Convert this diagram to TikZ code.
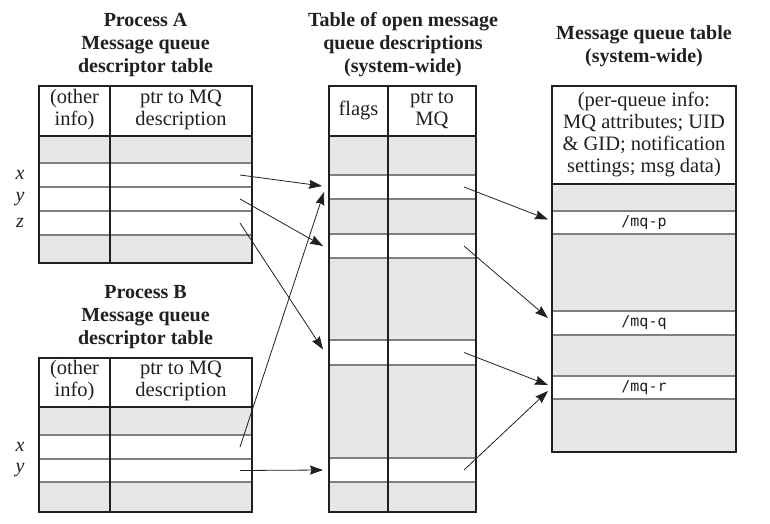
\documentclass[tikz,border=0pt]{standalone}
\usepackage{fontspec}
\setmainfont{Liberation Serif}
\newfontfamily\mqfont{DejaVu Sans Mono}
\usetikzlibrary{arrows.meta}
\definecolor{cellgray}{HTML}{E6E7E9}
\definecolor{rulegray}{HTML}{808080}
\definecolor{ink}{HTML}{231F20}

\tikzstyle{slot}=[rectangle, draw=rulegray, line width=1.1pt, fill=white, inner sep=0pt, outer sep=0pt, minimum height=24pt]
\tikzstyle{frame}=[draw=ink, line width=1.8pt]
\tikzstyle{title}=[align=center, text=ink, font=\fontsize{20}{23}\selectfont\bfseries]
\tikzstyle{head}=[align=center, text=ink, font=\fontsize{20.5}{22}\selectfont]
\tikzstyle{fdlabel}=[text=ink, font=\fontsize{20}{22}\selectfont\itshape]
\tikzstyle{qname}=[text=ink, font=\fontsize{15}{17}\mqfont]
\tikzstyle{ptr}=[-{Stealth[length=13pt,width=9pt,inset=1.5pt]}, line width=0.8pt, draw=ink]

\begin{document}
\begin{tikzpicture}[x=1pt,y=-1pt]
\useasboundingbox (0,0) rectangle (770,524);

% titles
\node[title] (tA) at (145.5,45) {Process A\\Message queue\\descriptor table};
\node[title] (tB) at (145.5,317) {Process B\\Message queue\\descriptor table};
\node[title] (tM) at (403,45) {Table of open message\\queue descriptions\\(system-wide)};
\node[title] (tR) at (644,46) {Message queue table\\(system-wide)};

% process A descriptor table
\fill[cellgray] (39,136) rectangle (252,263);
\node[slot, minimum width=213pt] (Ax) at (145.5,175) {};
\node[slot, minimum width=213pt] (Ay) at (145.5,199) {};
\node[slot, minimum width=213pt] (Az) at (145.5,223) {};
\draw[frame] (39,86) rectangle (252,263);
\draw[frame] (110,86) -- (110,263);
\draw[frame] (39,136) -- (252,136);
\node[head] (hA1) at (74.5,110) {(other\\info)};
\node[head] (hA2) at (181,110) {ptr to MQ\\description};
\node[fdlabel] (lAx) at (20,175) {x};
\node[fdlabel] (lAy) at (20,199) {y};
\node[fdlabel] (lAz) at (20,223) {z};

% process B descriptor table
\fill[cellgray] (39,407) rectangle (252,512);
\node[slot, minimum width=213pt] (Bx) at (145.5,447) {};
\node[slot, minimum width=213pt, minimum height=23pt] (By) at (145.5,470.5) {};
\draw[frame] (39,358) rectangle (252,512);
\draw[frame] (110,358) -- (110,512);
\draw[frame] (39,407) -- (252,407);
\node[head] (hB1) at (74.5,381) {(other\\info)};
\node[head] (hB2) at (181,381) {ptr to MQ\\description};
\node[fdlabel] (lBx) at (20,447) {x};
\node[fdlabel] (lBy) at (20,470.5) {y};

% open message queue descriptions
\fill[cellgray] (329,136) rectangle (476,512);
\node[slot, minimum width=147pt] (d1) at (402.5,187) {};
\node[slot, minimum width=147pt] (d2) at (402.5,246) {};
\node[slot, minimum width=147pt, minimum height=25pt] (d3) at (402.5,352.5) {};
\node[slot, minimum width=147pt] (d4) at (402.5,470) {};
\draw[frame] (329,86) rectangle (476,512);
\draw[frame] (388,86) -- (388,512);
\draw[frame] (329,136) -- (476,136);
\node[head] (hM1) at (358.5,110) {flags};
\node[head] (hM2) at (432,110) {ptr to\\MQ};

% message queue table
\fill[cellgray] (552,184) rectangle (736,452);
\node[slot, minimum width=184pt, minimum height=23pt] (qp) at (644,222.5) {};
\node[slot, minimum width=184pt] (qq) at (644,323) {};
\node[slot, minimum width=184pt, minimum height=23pt] (qr) at (644,387.5) {};
\node[qname] (np) at (qp) {/mq-p};
\node[qname] (nq) at (qq) {/mq-q};
\node[qname] (nr) at (qr) {/mq-r};
\draw[frame] (552,86) rectangle (736,452);
\draw[frame] (552,184) -- (736,184);
\node[head] (hR) at (644,134) {(per-queue info:\\MQ attributes; UID\\\& GID; notification\\settings; msg data)};

% pointers
\draw[ptr] ([shift={(-12,0)}]Ax.east) -- ([shift={(-7,-1)}]d1.west);
\draw[ptr] ([shift={(-12,0)}]Ay.east) -- ([shift={(-6,0)}]d2.west);
\draw[ptr] ([shift={(-12,0)}]Az.east) -- ([shift={(-6,-3)}]d3.west);
\draw[ptr] ([shift={(-12,0)}]Bx.east) -- ([shift={(-5,5)}]d1.west);
\draw[ptr] ([shift={(-12,0)}]By.east) -- ([shift={(-6,0)}]d4.west);
\draw[ptr] ([shift={(-12,0)}]d1.east) -- ([shift={(-4,-3)}]qp.west);
\draw[ptr] ([shift={(-12,0)}]d2.east) -- ([shift={(-4,-5)}]qq.west);
\draw[ptr] ([shift={(-12,0)}]d3.east) -- ([shift={(-4,-2.5)}]qr.west);
\draw[ptr] ([shift={(-12,0)}]d4.east) -- ([shift={(-4,3.5)}]qr.west);
\end{tikzpicture}
\end{document}
